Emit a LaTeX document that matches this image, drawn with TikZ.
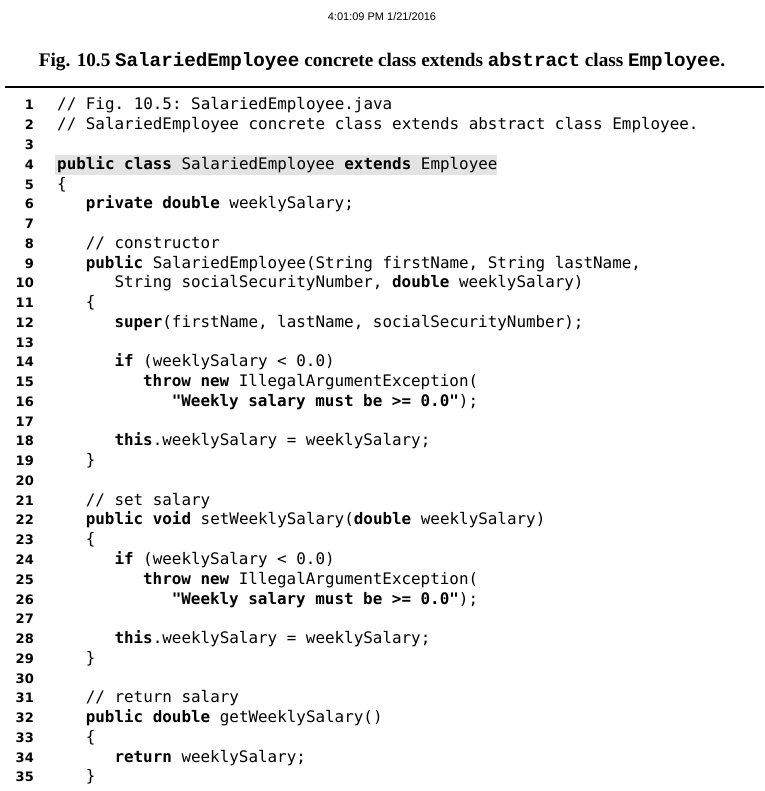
\documentclass[tikz,border=0pt]{standalone}
\usepackage{fontspec}
\setmainfont{Liberation Serif}
\setsansfont{DejaVu Sans}
\setmonofont{DejaVu Sans Mono}
\newfontfamily\hdrfont{Liberation Sans}
\newfontfamily\ttlmono{Liberation Mono}
\newcommand{\K}[1]{\textbf{#1}}
\begin{document}
\begin{tikzpicture}[x=1pt,y=-1pt,
  code/.style={anchor=base west,inner sep=0pt,font=\fontsize{15.9}{18}\ttfamily},
  lnum/.style={anchor=base east,inner sep=0pt,font=\fontsize{13}{15}\sffamily\bfseries}]
\useasboundingbox (0,0) rectangle (764,791);
\node[font=\fontsize{11}{13}\hdrfont] (hdr) at (382,17) {4:01:09 PM 1/21/2016};
\node[font=\fontsize{19.2}{22}\bfseries] (title) at (382,62) {Fig. 10.5 {\ttlmono SalariedEmployee} concrete class extends {\ttlmono abstract} class {\ttlmono Employee}.};
\draw[line width=1.3pt] (5,87) coordinate (rl) -- (764,87) coordinate (rr);
\fill[gray!22] (55,155) rectangle (497,175);
\foreach \i in {1,...,35} {
  \node[lnum] (n\i) at (34,{110+19.76*(\i-1)}) {\i};
}
\def\L#1#2#3{\node[code] (c#1) at ({57+9.55*#2},{110+19.76*(#1-1)}) {#3};}
\L{1}{0}{// Fig. 10.5: SalariedEmployee.java}
\L{2}{0}{// SalariedEmployee concrete class extends abstract class Employee.}
\L{4}{0}{\K{public class} SalariedEmployee \K{extends} Employee}
\L{5}{0}{\{}
\L{6}{3}{\K{private double} weeklySalary;}
\L{8}{3}{// constructor}
\L{9}{3}{\K{public} SalariedEmployee(String firstName, String lastName,}
\L{10}{6}{String socialSecurityNumber, \K{double} weeklySalary)}
\L{11}{3}{\{}
\L{12}{6}{\K{super}(firstName, lastName, socialSecurityNumber);}
\L{14}{6}{\K{if} (weeklySalary < 0.0)}
\L{15}{9}{\K{throw new} IllegalArgumentException(}
\L{16}{12}{\K{"Weekly salary must be >= 0.0"});}
\L{18}{6}{\K{this}.weeklySalary = weeklySalary;}
\L{19}{3}{\}}
\L{21}{3}{// set salary}
\L{22}{3}{\K{public void} setWeeklySalary(\K{double} weeklySalary)}
\L{23}{3}{\{}
\L{24}{6}{\K{if} (weeklySalary < 0.0)}
\L{25}{9}{\K{throw new} IllegalArgumentException(}
\L{26}{12}{\K{"Weekly salary must be >= 0.0"});}
\L{28}{6}{\K{this}.weeklySalary = weeklySalary;}
\L{29}{3}{\}}
\L{31}{3}{// return salary}
\L{32}{3}{\K{public double} getWeeklySalary()}
\L{33}{3}{\{}
\L{34}{6}{\K{return} weeklySalary;}
\L{35}{3}{\}}
\end{tikzpicture}
\end{document}
